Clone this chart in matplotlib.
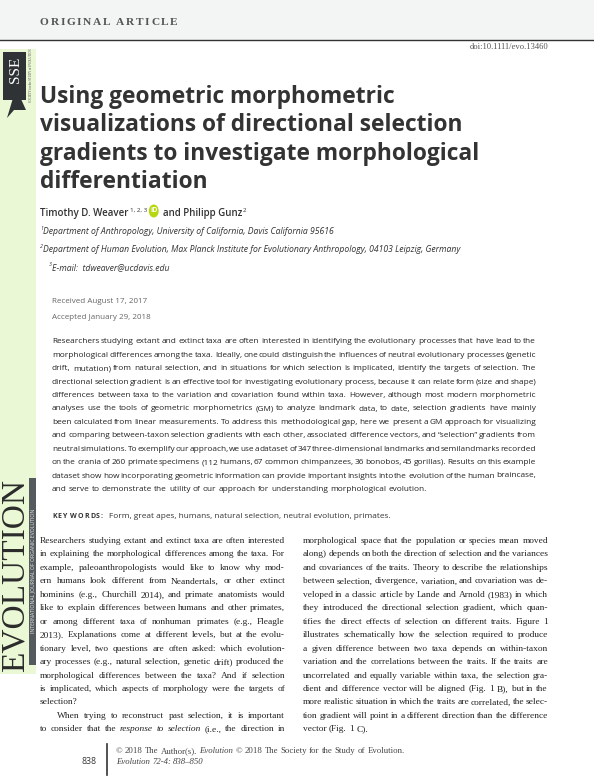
import matplotlib
matplotlib.use("Agg")
import matplotlib.pyplot as plt
from matplotlib.font_manager import FontProperties
from matplotlib.patches import Rectangle, Circle, Polygon

W, H = 594, 783
fig = plt.figure(figsize=(W/100, H/100), dpi=100)
fig.patch.set_facecolor("white")
R = fig.canvas.get_renderer()

def fx(x): return x / W
def fy(y): return 1 - y / H

def width(s, fp):
    w, h, d = R.get_text_width_height_descent(s, fp, ismath=False)
    return w

def put(x, y, s, fp, color="#222222", **kw):
    fig.text(fx(x), fy(y), s, fontproperties=fp, color=color, va="baseline", ha="left", **kw)

# ---------------- text content ----------------
header = "ORIGINAL ARTICLE"
doi = "doi:10.1111/evo.13460"
title_lines = ["Using geometric morphometric",
               "visualizations of directional selection",
               "gradients to investigate morphological",
               "differentiation"]
affils = [("1", "Department of Anthropology, University of California, Davis California 95616"),
          ("2", "Department of Human Evolution, Max Planck Institute for Evolutionary Anthropology, 04103 Leipzig, Germany"),
          ("3", "E-mail:  tdweaver@ucdavis.edu")]
dates = ["Received August 17, 2017", "Accepted January 29, 2018"]
abstract = [
 "Researchers studying extant and extinct taxa are often interested in identifying the evolutionary processes that have lead to the",
 "morphological differences among the taxa. Ideally, one could distinguish the influences of neutral evolutionary processes (genetic",
 "drift, mutation) from natural selection, and in situations for which selection is implicated, identify the targets of selection. The",
 "directional selection gradient is an effective tool for investigating evolutionary process, because it can relate form (size and shape)",
 "differences between taxa to the variation and covariation found within taxa. However, although most modern morphometric",
 "analyses use the tools of geometric morphometrics (GM) to analyze landmark data, to date, selection gradients have mainly",
 "been calculated from linear measurements. To address this methodological gap, here we present a GM approach for visualizing",
 "and comparing between-taxon selection gradients with each other, associated difference vectors, and \u201cselection\u201d gradients from",
 "neutral simulations. To exemplify our approach, we use a dataset of 347 three-dimensional landmarks and semilandmarks recorded",
 "on the crania of 260 primate specimens (112 humans, 67 common chimpanzees, 36 bonobos, 45 gorillas). Results on this example",
 "dataset show how incorporating geometric information can provide important insights into the evolution of the human braincase,",
 "and serve to demonstrate the utility of our approach for understanding morphological evolution."]
keywords = "Form, great apes, humans, natural selection, neutral evolution, primates."
left_col = [
 "Researchers studying extant and extinct taxa are often interested",
 "in explaining the morphological differences among the taxa. For",
 "example, paleoanthropologists would like to know why mod-",
 "ern humans look different from Neandertals, or other extinct",
 "hominins (e.g., Churchill 2014), and primate anatomists would",
 "like to explain differences between humans and other primates,",
 "or among different taxa of nonhuman primates (e.g., Fleagle",
 "2013). Explanations come at different levels, but at the evolu-",
 "tionary level, two questions are often asked: which evolution-",
 "ary processes (e.g., natural selection, genetic drift) produced the",
 "morphological differences between the taxa? And if selection",
 "is implicated, which aspects of morphology were the targets of",
 "selection?",
 "\u2003When trying to reconstruct past selection, it is important",
 "to consider that the _response _to _selection (i.e., the direction in"]
left_last = {12}
right_col = [
 "morphological space that the population or species mean moved",
 "along) depends on both the direction of selection and the variances",
 "and covariances of the traits. Theory to describe the relationships",
 "between selection, divergence, variation, and covariation was de-",
 "veloped in a classic article by Lande and Arnold (1983) in which",
 "they introduced the directional selection gradient, which quan-",
 "tifies the direct effects of selection on different traits. Figure 1",
 "illustrates schematically how the selection required to produce",
 "a given difference between two taxa depends on within-taxon",
 "variation and the correlations between the traits. If the traits are",
 "uncorrelated and equally variable within taxa, the selection gra-",
 "dient and difference vector will be aligned (Fig. 1 B), but in the",
 "more realistic situation in which the traits are correlated, the selec-",
 "tion gradient will point in a different direction than the difference",
 "vector (Fig. 1 C)."]
right_last = {14}
page_no = "838"
footer1 = "\u00a9 2018 The Author(s). _Evolution \u00a9 2018 The Society for the Study of Evolution."
footer2 = "_Evolution _72-4: _838\u2013850"

# ---------------- fonts ----------------
serif = FontProperties(family="Liberation Serif", size=6.75)
serif_i = FontProperties(family="Liberation Serif", size=6.75, style="italic")
sans = FontProperties(family="Open Sans", size=5.95)
sans_grey = FontProperties(family="Open Sans", size=5.8)

def draw_words(x0, x1, y, line, fp, fpi, justify=True, color="#222222"):
    indent = 0
    if line.startswith("\u2003"):
        indent = 17
        line = line[1:]
    words = line.split(" ")
    items = []
    for w_ in words:
        if w_.startswith("_"):
            items.append((w_[1:], fpi))
        else:
            items.append((w_, fp))
    ws = [width(t, f) for t, f in items]
    sp = width("a b", fp) - width("ab", fp)
    x = x0 + indent
    if justify and len(items) > 1:
        gap = (x1 - x - sum(ws)) / (len(items) - 1)
    else:
        gap = sp
    for (t, f), wd in zip(items, ws):
        put(x, y, t, f, color=color)
        x += wd + gap

# ---------------- header band ----------------
fig.patches.append(Rectangle((0, fy(40)), 1, 40/H, transform=fig.transFigure,
                             facecolor="#f3f4f4", edgecolor="none"))
fig.lines.append(plt.Line2D([0, 1], [fy(40), fy(40)], transform=fig.transFigure,
                            color="#333333", lw=1.0))
hfp = FontProperties(family="Liberation Serif", size=8.2, weight="bold")
x = 40
for ch in header:
    put(x, 25, ch, hfp, color="#555555")
    x += width(ch, hfp) + 1.6
dfp = FontProperties(family="Liberation Serif", size=6.2)
put(548 - width(doi, dfp), 49, doi, dfp, color="#555555")

# ---------------- left green strip & logos ----------------
fig.patches.append(Rectangle((0, fy(674)), fx(36), (674-49)/H, transform=fig.transFigure,
                             facecolor="#eaf8d6", edgecolor="none"))
fig.patches.append(Rectangle((fx(3), fy(100)), fx(23), 48/H, transform=fig.transFigure,
                             facecolor="#2f3336", edgecolor="none"))
fig.text(fx(15), fy(70), "SSE", rotation=90, ha="center", va="center", color="white",
         fontproperties=FontProperties(family="Liberation Serif", size=11))
fig.patches.append(Polygon([[fx(7), fy(118)], [fx(16), fy(88)], [fx(26), fy(110)], [fx(14), fy(110)]],
                           closed=True, transform=fig.transFigure, facecolor="#2f3336", edgecolor="none"))
fig.text(fx(31), fy(75), "SOCIETY for the STUDY of EVOLUTION", rotation=90, ha="center", va="center",
         color="#444444", fontproperties=FontProperties(family="Liberation Serif", size=2.2))
fig.patches.append(Rectangle((fx(29), fy(665)), fx(7), (665-478)/H, transform=fig.transFigure,
                             facecolor="#555a5e", edgecolor="none"))
fig.text(fx(32.5), fy(571), "INTERNATIONAL JOURNAL OF ORGANIC EVOLUTION", rotation=90, ha="center",
         va="center", color="#e8e8e8", fontproperties=FontProperties(family="Open Sans", size=3.7))
fig.text(fx(15), fy(575), "EVOLUTION", rotation=90, ha="center", va="center", color="#2b2b2b",
         fontproperties=FontProperties(family="Liberation Serif", size=24))

# ---------------- title ----------------
tfp0 = FontProperties(family="Open Sans", weight="bold", size=10)
scale = (396 - 40) / width(title_lines[0], tfp0)
tfp = FontProperties(family="Open Sans", weight="bold", size=10 * scale)
for i, t in enumerate(title_lines):
    put(40, 103 + 28.3 * i, t, tfp, color="#333333")

# ---------------- authors ----------------
afp = FontProperties(family="Open Sans", weight="semibold", size=7.0)
supfp = FontProperties(family="Open Sans", size=4.5)
x = 40
y = 216
put(x, y, "Timothy D. Weaver", afp, color="#333333"); x += width("Timothy D. Weaver", afp) + 1
put(x, y - 4, "1, 2, 3", supfp, color="#333333"); x += width("1, 2, 3", supfp) + 1
fig.patches.append(Circle((fx(x + 6), fy(y - 5)), 6.5/H, transform=fig.transFigure,
                          facecolor="#b5d80e", edgecolor="none"))
fig.text(fx(x + 6), fy(y - 5), "iD", ha="center", va="center", color="white",
         fontproperties=FontProperties(family="Open Sans", size=5, weight="bold"))
x += 15
put(x, y, "and Philipp Gunz", afp, color="#333333"); x += width("and Philipp Gunz", afp) + 0.5
put(x, y - 4, "2", supfp, color="#333333")

iafp = FontProperties(family="Open Sans", style="italic", size=6.2)
isup = FontProperties(family="Open Sans", style="italic", size=3.8)
for i, (s, t) in enumerate(affils):
    xx = 40 if i < 2 else 49
    yy = 234 + 18 * i
    put(xx, yy - 4, s, isup, color="#333333")
    put(xx + 3, yy, t, iafp, color="#333333")

# ---------------- dates & abstract ----------------
for i, d in enumerate(dates):
    put(52, 303 + 16 * i, d, sans_grey, color="#666666")
for i, line in enumerate(abstract):
    draw_words(52, 536, 343.5 + 13.4 * i, line, sans, sans, justify=(i < len(abstract) - 1))
kfp = FontProperties(family="Open Sans", weight="bold", size=5.0)
x = 52
for ch in "KEY WORDS:":
    put(x, 518, ch, kfp, color="#333333")
    x += width(ch, kfp) + 0.9
put(x + 5, 518, keywords, sans, color="#333333")

# ---------------- body columns ----------------
for i, line in enumerate(left_col):
    draw_words(40, 285, 543 + 13.45 * i, line, serif, serif_i, justify=(i not in left_last))
for i, line in enumerate(right_col):
    draw_words(303, 548, 543 + 13.45 * i, line, serif, serif_i, justify=(i not in right_last))

# ---------------- footer ----------------
put(81, 764, page_no, FontProperties(family="Open Sans", size=6.3), color="#333333")
fig.lines.append(plt.Line2D([fx(107), fx(107)], [fy(744), fy(775)], transform=fig.transFigure,
                            color="#333333", lw=1.2))
ffp = FontProperties(family="Liberation Serif", size=6.3)
ffpi = FontProperties(family="Liberation Serif", size=6.3, style="italic")
draw_words(116, 0, 753, footer1, ffp, ffpi, justify=False, color="#444444")
draw_words(116, 0, 764, footer2, ffp, ffpi, justify=False, color="#444444")

fig.savefig("out.png", dpi=100, facecolor="white")
